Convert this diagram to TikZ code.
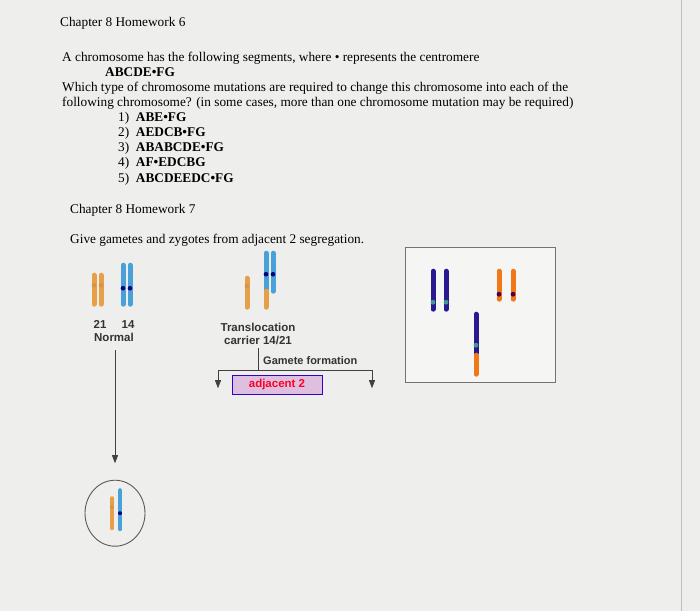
\documentclass[tikz,border=0pt]{standalone}
\usepackage{fontspec}
\setmainfont{Liberation Serif}
\newfontfamily\sansf{Liberation Sans}
\usetikzlibrary{arrows.meta}
\definecolor{bg}{HTML}{EEEEEC}
\definecolor{chorg}{HTML}{E8A048}
\definecolor{chblu}{HTML}{4AA0D8}
\definecolor{dblu}{HTML}{2A1890}
\definecolor{dorg}{HTML}{F07818}
\definecolor{teal2}{HTML}{3E9A8A}
\tikzset{
 txt/.style={anchor=base west,inner sep=0,font=\fontsize{13.3}{15}\selectfont},
 btxt/.style={txt,font=\fontsize{13.3}{15}\selectfont\bfseries},
 stxt/.style={anchor=base,inner sep=0,font=\sansf\fontsize{11.5}{13}\selectfont\bfseries,text=black!80},
 chr/.style={line width=5pt,line cap=round},
 arr/.style={-{Triangle[width=6pt,length=8pt]},line width=0.7pt,black!75},
 ln/.style={line width=0.7pt,black!75}
}
\begin{document}
\begin{tikzpicture}[x=1pt,y=-1pt]
\fill[bg] (0,0) rectangle (700,611);
\draw[black!25] (681,0) -- (681,611);
\node[txt] (t1) at (60,26) {Chapter 8 Homework 6};
\node[txt] (t2) at (62,61) {A chromosome has the following segments, where \textbullet\ represents the centromere};
\node[btxt] (t3) at (105,76) {ABCDE\textbullet FG};
\node[txt] (t4) at (62,91) {Which type of chromosome mutations are required to change this chromosome into each of the};
\node[txt] (t5) at (62,106) {following chromosome? (in some cases, more than one chromosome mutation may be required)};
\node[txt] (l1) at (118,121) {1)\ \ \textbf{ABE\textbullet FG}};
\node[txt] (l2) at (118,136) {2)\ \ \textbf{AEDCB\textbullet FG}};
\node[txt] (l3) at (118,151) {3)\ \ \textbf{ABABCDE\textbullet FG}};
\node[txt] (l4) at (118,166) {4)\ \ \textbf{AF\textbullet EDCBG}};
\node[txt] (l5) at (118,182) {5)\ \ \textbf{ABCDEEDC\textbullet FG}};
\node[txt] (t6) at (70,213) {Chapter 8 Homework 7};
\node[txt] (t7) at (70,243) {Give gametes and zygotes from adjacent 2 segregation.};
% normal chromosomes
\draw[chr,chorg] (94,275) -- (94,304); \draw[chr,chorg] (101,275) -- (101,304);
\fill[chorg!60!brown] (94,285) circle (2.3) (101,285) circle (2.3);
\draw[chr,chblu] (123,265) -- (123,304); \draw[chr,chblu] (130,265) -- (130,304);
\fill[blue!50!black] (123,288) circle (2.3) (130,288) circle (2.3);
\node[stxt] (n21) at (100,328) {21};
\node[stxt] (n14) at (128,328) {14};
\node[stxt] (nn) at (114,341) {Normal};
\coordinate (na) at (115,350);
\coordinate (nb) at (115,463);
\draw[arr] (na) -- (nb);
% zygote
\draw[black!65,line width=0.9pt] (115,513) ellipse (30 and 33);
\draw[chr,chorg,line width=4pt] (112,498) -- (112,528);
\fill[chorg!60!brown] (112,507) circle (2);
\draw[chr,chblu,line width=4pt] (120,490) -- (120,529);
\fill[blue!50!black] (120,513) circle (2);
% translocation carrier
\draw[chr,chorg] (247,278) -- (247,307); \fill[chorg!60!brown] (247,286) circle (2.3);
\draw[chr,chblu] (266,253) -- (266,289); \draw[chr,chorg] (266,291) -- (266,307);
\draw[chr,chblu] (273,253) -- (273,291);
\fill[blue!50!black] (266,274) circle (2.3) (273,274) circle (2.3);
\node[stxt] (tr1) at (258,331) {Translocation};
\node[stxt] (tr2) at (258,344) {carrier 14/21};
\coordinate (ta) at (258,348);
\coordinate (tj) at (258,370);
\coordinate (tl) at (218,370);
\coordinate (tr) at (372,370);
\coordinate (tld) at (218,388);
\coordinate (trd) at (372,388);
\draw[ln] (ta) -- (tj);
\draw[ln] (tl) -- (tr);
\draw[arr] (tl) -- (tld);
\draw[arr] (tr) -- (trd);
\node[anchor=base west,inner sep=0,font=\sansf\fontsize{11}{13}\selectfont\bfseries,text=black!80] (gf) at (263,364) {Gamete formation};
\node[draw=blue!60!violet,fill=violet!25,minimum width=90,minimum height=19,inner sep=0,font=\sansf\fontsize{11.5}{13}\selectfont\bfseries,text=red!85!magenta] (adj) at (277,384) {adjacent 2};
% right box
\draw[black!55,line width=0.9pt,fill=bg!60!white] (405,247) rectangle (555,382);
\draw[chr,dblu] (433,271) -- (433,309); \draw[chr,dblu] (446,271) -- (446,309);
\fill[teal2] (433,302) circle (2.4) (446,302) circle (2.4);
\draw[chr,dorg] (499,271) -- (499,299); \draw[chr,dorg] (513,271) -- (513,299);
\fill[violet!60!black] (499,294) circle (2.4) (513,294) circle (2.4);
\draw[chr,dblu] (476,314) -- (476,353); \draw[chr,dorg] (476,355) -- (476,374);
\fill[teal2] (476,345) circle (2.4);
\end{tikzpicture}
\end{document}
